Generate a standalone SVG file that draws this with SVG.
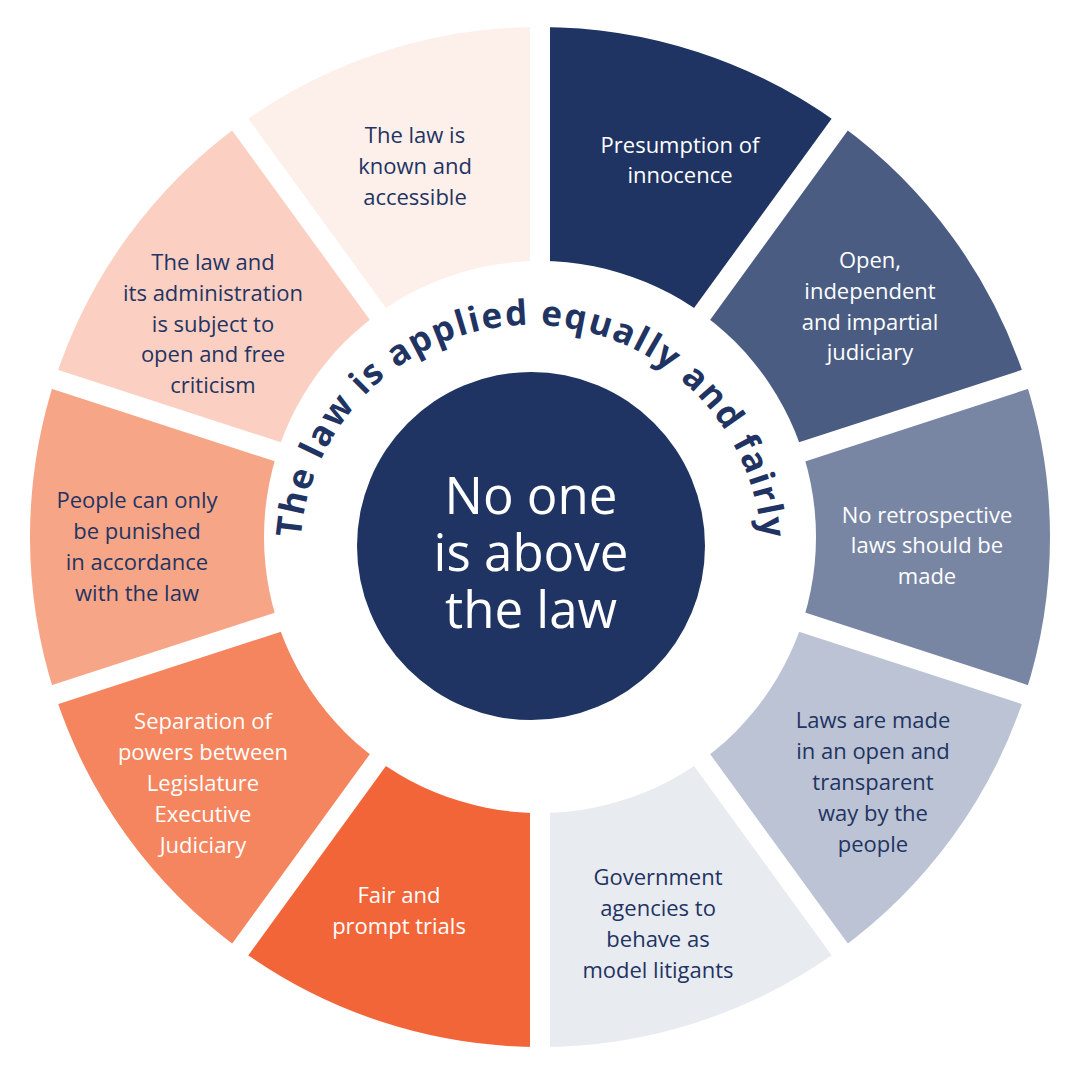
<svg xmlns="http://www.w3.org/2000/svg" width="1080" height="1080" viewBox="0 0 1080 1080">
<style>
.seg{fill:none;stroke-width:235;stroke-dasharray:246.615 2466.15}
.t{font-family:"Open Sans","Liberation Sans",sans-serif;font-size:22px;text-anchor:middle}
.w{fill:#ffffff}.n{fill:#1f3462}
</style>
<defs><path id="arc" d="M300,556 A231,231 0 0 1 762,556"/></defs>
<rect width="1080" height="1080" fill="#ffffff"/>
<g transform="translate(540,537) rotate(-90)">
<circle id="s1" class="seg" r="392.5" stroke="#1f3462" stroke-dashoffset="0"/>
<circle id="s2" class="seg" r="392.5" stroke="#4a5c82" stroke-dashoffset="-246.615"/>
<circle id="s3" class="seg" r="392.5" stroke="#7886a4" stroke-dashoffset="-493.23"/>
<circle id="s4" class="seg" r="392.5" stroke="#bbc3d4" stroke-dashoffset="-739.845"/>
<circle id="s5" class="seg" r="392.5" stroke="#e8ebf0" stroke-dashoffset="-986.46"/>
<circle id="s6" class="seg" r="392.5" stroke="#f26539" stroke-dashoffset="-1233.075"/>
<circle id="s7" class="seg" r="392.5" stroke="#f5855e" stroke-dashoffset="-1479.69"/>
<circle id="s8" class="seg" r="392.5" stroke="#f7a587" stroke-dashoffset="-1726.305"/>
<circle id="s9" class="seg" r="392.5" stroke="#fbd0c2" stroke-dashoffset="-1972.92"/>
<circle id="s10" class="seg" r="392.5" stroke="#fdefea" stroke-dashoffset="-2219.535"/>
</g>
<g id="gaps" stroke="#ffffff" stroke-width="20">
<line x1="540" y1="537" x2="540" y2="15"/>
<line x1="540" y1="537" x2="845.7" y2="116.3"/>
<line x1="540" y1="537" x2="1034.6" y2="376.3"/>
<line x1="540" y1="537" x2="1034.6" y2="697.7"/>
<line x1="540" y1="537" x2="845.7" y2="957.7"/>
<line x1="540" y1="537" x2="540" y2="1057"/>
<line x1="540" y1="537" x2="234.3" y2="957.7"/>
<line x1="540" y1="537" x2="45.4" y2="697.7"/>
<line x1="540" y1="537" x2="45.4" y2="376.3"/>
<line x1="540" y1="537" x2="234.3" y2="116.3"/>
</g>
<circle cx="540" cy="537" r="276" fill="#ffffff"/>
<g id="center">
<circle cx="531" cy="546" r="174" fill="#1f3462"/>
<text class="w" font-family="Open Sans,Liberation Sans,sans-serif" font-size="51" text-anchor="middle"><tspan x="531" y="514">No one</tspan><tspan x="531" y="571">is above</tspan><tspan x="531" y="628">the law</tspan></text>
</g>
<text class="n" font-family="Open Sans,Liberation Sans,sans-serif" font-size="35" font-weight="bold" textLength="690" lengthAdjust="spacing"><textPath href="#arc" startOffset="50%" text-anchor="middle" textLength="690" lengthAdjust="spacing">The law is applied equally and fairly</textPath></text>
<g id="labels" class="t">
<text class="n"><tspan x="415" y="143">The law is</tspan><tspan x="415" y="174">known and</tspan><tspan x="415" y="205">accessible</tspan></text>
<text class="w"><tspan x="680" y="153">Presumption of</tspan><tspan x="680" y="183">innocence</tspan></text>
<text class="w"><tspan x="870" y="268">Open,</tspan><tspan x="870" y="299">independent</tspan><tspan x="870" y="330">and impartial</tspan><tspan x="870" y="360">judiciary</tspan></text>
<text class="w"><tspan x="927" y="523">No retrospective</tspan><tspan x="927" y="553">laws should be</tspan><tspan x="927" y="584">made</tspan></text>
<text class="n"><tspan x="873" y="728">Laws are made</tspan><tspan x="873" y="759">in an open and</tspan><tspan x="873" y="790">transparent</tspan><tspan x="873" y="821">way by the</tspan><tspan x="873" y="852">people</tspan></text>
<text class="n"><tspan x="658" y="885">Government</tspan><tspan x="658" y="916">agencies to</tspan><tspan x="658" y="947">behave as</tspan><tspan x="658" y="978">model litigants</tspan></text>
<text class="w"><tspan x="399" y="903">Fair and</tspan><tspan x="399" y="934">prompt trials</tspan></text>
<text class="w"><tspan x="203" y="729">Separation of</tspan><tspan x="203" y="760">powers between</tspan><tspan x="203" y="791">Legislature</tspan><tspan x="203" y="822">Executive</tspan><tspan x="203" y="853">Judiciary</tspan></text>
<text class="n"><tspan x="137" y="508">People can only</tspan><tspan x="137" y="539">be punished</tspan><tspan x="137" y="570">in accordance</tspan><tspan x="137" y="601">with the law</tspan></text>
<text class="n"><tspan x="213" y="270">The law and</tspan><tspan x="213" y="301">its administration</tspan><tspan x="213" y="332">is subject to</tspan><tspan x="213" y="362">open and free</tspan><tspan x="213" y="393">criticism</tspan></text>
</g>
</svg>
